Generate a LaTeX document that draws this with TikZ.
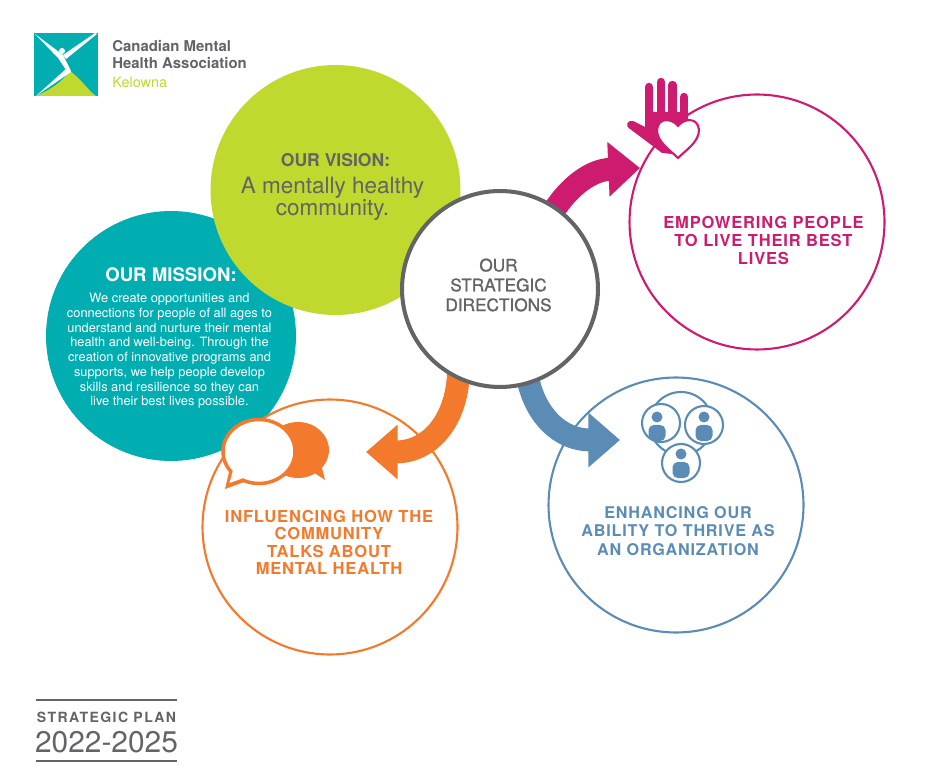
\documentclass[tikz,border=0pt]{standalone}
\usepackage{fontspec}
\setmainfont{TeX Gyre Heros}
\newfontfamily\medfont[FakeBold=1.2]{TeX Gyre Heros}
\newfontfamily\widefont[LetterSpace=5]{TeX Gyre Heros}
\newfontfamily\planfont[LetterSpace=10]{TeX Gyre Heros}
\usetikzlibrary{arrows.meta}
\definecolor{teal}{RGB}{0, 174, 178}
\definecolor{lime}{RGB}{193, 216, 47}
\definecolor{rose}{RGB}{205, 28, 112}
\definecolor{tang}{RGB}{243, 122, 45}
\definecolor{steel}{RGB}{91, 140, 181}
\definecolor{slate}{RGB}{99, 100, 102}
\pgfdeclarelayer{front}
\pgfsetlayers{main,front}
\tikzset{
  disc/.style={circle, inner sep=0pt, outer sep=0pt, minimum size=5cm, fill=#1},
  goal/.style={circle, inner sep=0pt, outer sep=0pt, minimum size=5.1cm, draw=#1, fill=white, line width=1.2pt},
  goaltext/.style={align=center, text=#1, font=\widefont\bfseries\fontsize{9.4}{10.5}\selectfont},
  bend arrow/.style={draw=#1, line width=13pt, -{Triangle[length=18pt, width=30pt]}}
}
\begin{document}
\begin{tikzpicture}[x=0.02cm, y=-0.02cm]

  \useasboundingbox (0, 0) rectangle (929, 783);
  \fill[white] (0, 0) rectangle (929, 783);

  % logo
  \fill[teal] (34, 33) rectangle (98, 96);
  \fill[lime] (36, 96) .. controls (50, 90) and (62, 82) .. (70, 71) .. controls (80, 78) and (88, 90) .. (96, 96) -- cycle;
  \fill[white] (35, 34) -- (63, 55) -- (71, 71) -- (66, 70) -- (58, 58) -- cycle;
  \fill[white] (97, 34) -- (66, 59) -- (63, 55) -- (95, 33) -- cycle;
  \fill[white] (67, 68) -- (71, 72) -- (36, 96) -- cycle;
  \fill[white] (62, 51) circle (3);
  \node[anchor=base west, inner sep=0pt, text=slate, font=\bfseries\fontsize{8.5}{10}\selectfont] (cmha) at (112, 52) {Canadian Mental};
  \node[anchor=base west, inner sep=0pt, text=slate, font=\bfseries\fontsize{8.5}{10}\selectfont] (assoc) at (112, 69) {Health Association};
  \node[anchor=base west, inner sep=0pt, text=lime, font=\fontsize{8.2}{10}\selectfont] (branch) at (112, 88) {Kelowna};

  % the two filled discs
  \node[disc=teal] (mission) at (171, 336) {};
  \node[disc=lime] (vision) at (335.5, 190) {};

  \begin{pgfonlayer}{front}
    \node[circle, inner sep=0pt, outer sep=0pt, minimum size=3.92cm, draw=slate, fill=white, line width=2.3pt] (hub) at (500, 289) {};
    \node[text=slate, align=center, font=\medfont\fontsize{9.8}{11.3}\selectfont] (hubtext) at (498.5, 285) {OUR\\STRATEGIC\\DIRECTIONS};
  \end{pgfonlayer}

  \node[goal=rose] (empower) at (757, 222) {};
  \node[goal=tang] (talk) at (330, 527) {};
  \node[goal=steel] (thrive) at (676, 505) {};

  % arrows
  \coordinate (empowertip) at (640, 168);
  \coordinate (talktip) at (366, 452);
  \coordinate (thrivetip) at (620, 440);
  \path[bend arrow=rose] ([shift={(-2pt,-2pt)}]hub.55) .. controls (570, 185) and (592, 170) .. (empowertip);
  \path[bend arrow=tang] ([yshift=5pt]hub.245) .. controls (458, 420) and (430, 452) .. (talktip);
  \path[bend arrow=steel] ([yshift=5pt]hub.286) .. controls (534, 415) and (560, 440) .. (thrivetip);

  % hand and heart
  \foreach \x/\t in {649/87, 661/82, 672.5/85, 684/97} {
    \draw[rose, line width=4.8pt, line cap=round] (\x, \t) -- (\x, 125);
  }
  \fill[rose] (645, 112) -- (688, 112) -- (688, 135) -- (672, 154) -- (662, 153) -- (630, 129)
    .. controls (624, 125) and (628, 120) .. (633, 121) -- (645, 127) -- cycle;
  \draw[rose, fill=white, line width=1.2pt] (678, 126) .. controls (672, 118) and (658, 117) .. (657, 130)
    .. controls (657, 142) and (670, 150) .. (678, 158) .. controls (686, 150) and (699, 142) .. (699, 130)
    .. controls (698, 117) and (684, 118) .. (678, 126) -- cycle;

  % speech bubbles
  \fill[tang] (298, 450) ellipse (31 and 28);
  \fill[tang] (310, 470) -- (325, 480) -- (320, 460) -- cycle;
  \fill[tang] (230, 468) -- (225, 489) -- (247, 481) -- cycle;
  \draw[tang, fill=white, line width=2pt] (259, 451.5) ellipse (36 and 32);
  \fill[white] (233, 470) -- (229.5, 483) -- (245, 477.5) -- cycle;

  % people
  \draw[steel, line width=1.2pt] (681, 423.5) circle (31.5);
  \foreach \x/\y/\hx/\hy in {661/423/657/417, 704/425/704/417, 681/463/681/454} {
    \draw[steel, fill=white, line width=1.2pt] (\x, \y) circle (19);
    \fill[steel] (\hx, \hy) circle (5.5);
    \fill[steel, rounded corners=3pt] (\hx - 8.5, \hy + 24) -- (\hx - 8.5, \hy + 8) -- (\hx + 8.5, \hy + 8) -- (\hx + 8.5, \hy + 24) -- cycle;
  }

  % texts
  \node[text=slate, font=\bfseries\fontsize{10}{11}\selectfont] (visionhead) at (335.5, 160) {OUR VISION:};
  \node[text=slate, align=center, font=\fontsize{12.8}{12.6}\selectfont] (visiontext) at (332.5, 199) {A mentally healthy\\community.};
  \node[text=white, font=\bfseries\fontsize{10.6}{11}\selectfont] (missionhead) at (171, 275) {OUR MISSION:};
  \node[text=white, align=center, font=\fontsize{7.3}{8.4}\selectfont] (missiontext) at (169.5, 351) {We create opportunities and\\connections for people of all ages to\\understand and nurture their mental\\health and well-being. Through the\\creation of innovative programs and\\supports, we help people develop\\skills and resilience so they can\\live their best lives possible.};
  \node[goaltext=rose] (empowertext) at (763.5, 240.5) {EMPOWERING PEOPLE\\TO LIVE THEIR BEST\\LIVES};
  \node[goaltext=tang, font=\widefont\bfseries\fontsize{9.4}{9.85}\selectfont] (talktext) at (329, 542.5) {INFLUENCING HOW THE\\COMMUNITY\\TALKS ABOUT\\MENTAL HEALTH};
  \node[goaltext=steel, font=\widefont\bfseries\fontsize{9.2}{10.5}\selectfont] (thrivetext) at (678, 531) {ENHANCING OUR\\ABILITY TO THRIVE AS\\AN ORGANIZATION};

  % plan label
  \draw[slate, line width=1.2pt] (36, 700) -- (177, 700);
  \draw[slate, line width=1.2pt] (36, 761) -- (177, 761);
  \node[anchor=base, text=slate, font=\planfont\bfseries\fontsize{8}{9}\selectfont] (plan) at (106.5, 722) {STRATEGIC PLAN};
  \node[anchor=base, text=slate, font=\fontsize{17}{18}\selectfont] (years) at (106.5, 752) {2022-2025};

\end{tikzpicture}
\end{document}
